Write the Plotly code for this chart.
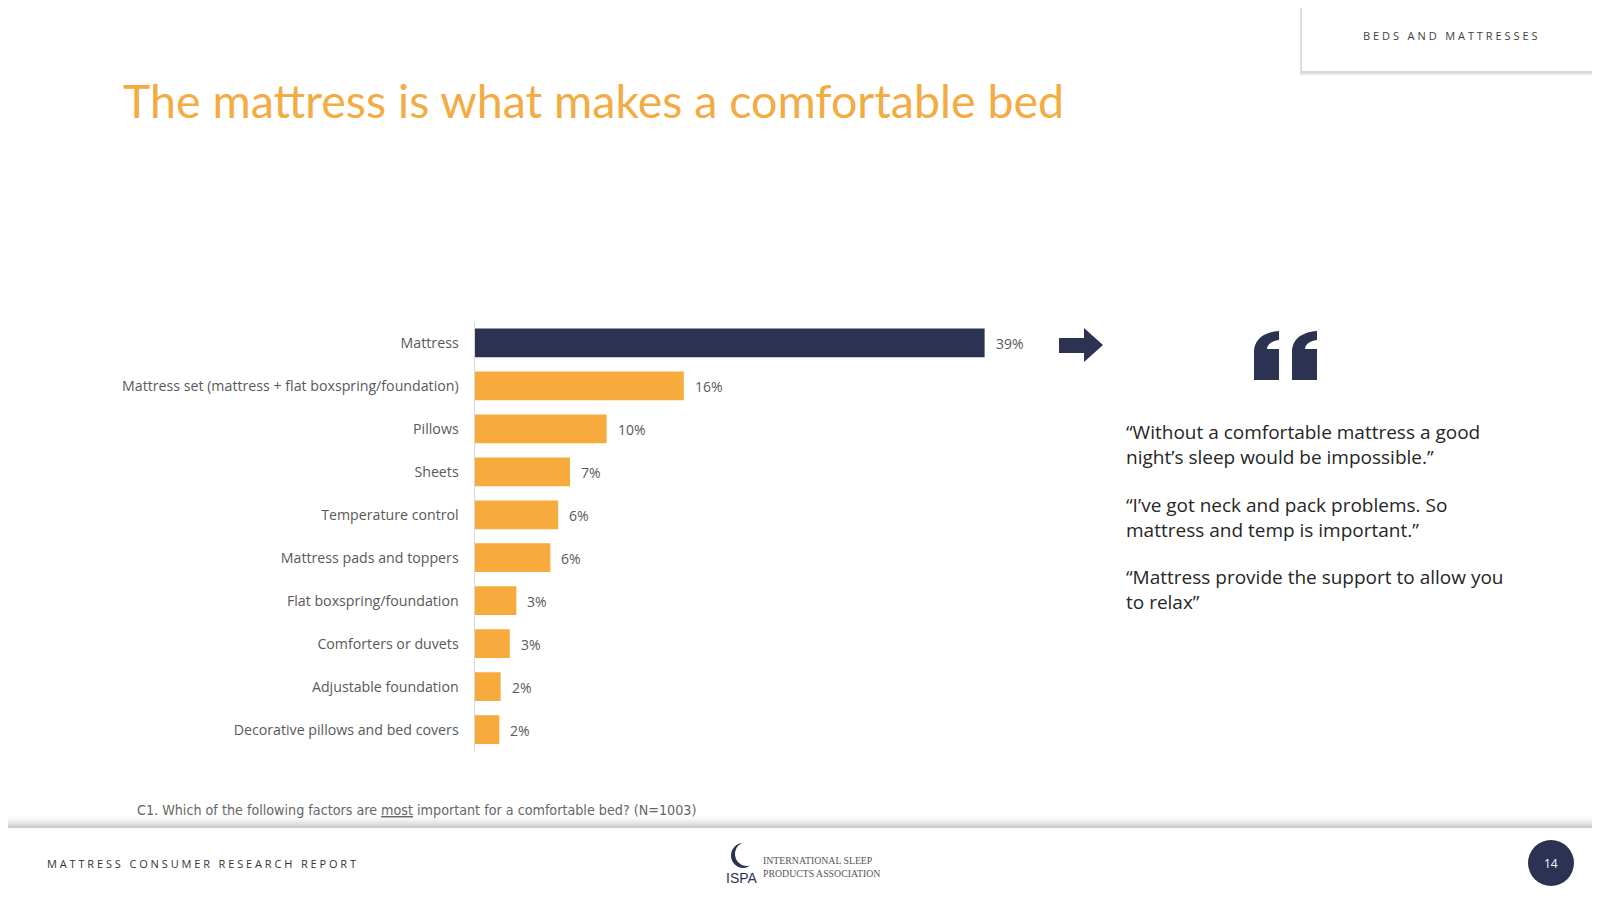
import plotly.graph_objects as go

W, H = 1600, 900
OFF = 8  # the page body adds an 8px margin; compensate so marks land where intended

categories = [
    "Mattress",
    "Mattress set (mattress + flat boxspring/foundation)",
    "Pillows",
    "Sheets",
    "Temperature control",
    "Mattress pads and toppers",
    "Flat boxspring/foundation",
    "Comforters or duvets",
    "Adjustable foundation",
    "Decorative pillows and bed covers",
]
values = [39.0, 16.0, 10.1, 7.3, 6.4, 5.8, 3.2, 2.7, 2.0, 1.9]
value_labels = ["39%", "16%", "10%", "7%", "6%", "6%", "3%", "3%", "2%", "2%"]

title_text = "The mattress is what makes a comfortable bed"
section_label = "BEDS AND MATTRESSES"
footer_label = "MATTRESS CONSUMER RESEARCH REPORT"
footnote = "C1. Which of the following factors are <u>most</u> important for a comfortable bed? (N=1003)"
quotes = [
    "“Without a comfortable mattress a good<br>night’s sleep would be impossible.”",
    "“I’ve got neck and pack problems. So<br>mattress and temp is important.”",
    "“Mattress provide the support to allow you<br>to relax”",
]
page_number = "14"

NAVY = "#2C3252"
ORANGE = "#F6AB3C"
GRAY = "#595959"

def px(x):
    return (x - OFF) / W

def py(y):
    return 1 - (y - OFF) / H

colors = [NAVY] + [ORANGE] * (len(categories) - 1)

fig = go.Figure()
fig.add_trace(go.Bar(
    x=values, y=categories, orientation="h",
    marker=dict(color=colors, line=dict(width=0)),
    hoverinfo="skip",
))

annotations = []
for v, c, lab in zip(values, categories, value_labels):
    annotations.append(dict(
        x=v, y=c, xref="x", yref="y", text=lab, showarrow=False,
        xanchor="left", yanchor="middle", xshift=9, yshift=-1,
        font=dict(family="Open Sans", size=14, color=GRAY),
    ))

# Title
annotations.append(dict(
    x=px(121), y=py(100), xref="paper", yref="paper", text=title_text,
    showarrow=False, xanchor="left", yanchor="middle",
    font=dict(family="Lato", size=46.5, color="#F2AC43"),
))
# Section label box text
annotations.append(dict(
    x=px(1451), y=py(35), xref="paper", yref="paper",
    text='<span style="letter-spacing:2.9px">' + section_label + '</span>',
    showarrow=False, xanchor="center", yanchor="middle",
    font=dict(family="Open Sans", size=11, color="#404040"),
))
# Footer label
annotations.append(dict(
    x=px(45), y=py(863), xref="paper", yref="paper",
    text='<span style="letter-spacing:2.85px">' + footer_label + '</span>',
    showarrow=False, xanchor="left", yanchor="middle",
    font=dict(family="Open Sans", size=11, color="#333333"),
))
# Footnote
annotations.append(dict(
    x=px(135), y=py(810), xref="paper", yref="paper", text=footnote,
    showarrow=False, xanchor="left", yanchor="middle",
    font=dict(family="DejaVu Sans Condensed, Liberation Sans", size=14.2, color="#666666"),
))
# Quotes
quote_y = [445, 517, 589]
for q, yy in zip(quotes, quote_y):
    annotations.append(dict(
        x=px(1124), y=py(yy), xref="paper", yref="paper", text=q,
        showarrow=False, xanchor="left", yanchor="middle", align="left",
        font=dict(family="Open Sans", size=19, color="#262626"),
    ))
# Page number
annotations.append(dict(
    x=px(1551), y=py(863), xref="paper", yref="paper", text=page_number,
    showarrow=False, xanchor="center", yanchor="middle",
    font=dict(family="Open Sans", size=12, color="white"),
))
# ISPA logo text
annotations.append(dict(
    x=px(742), y=py(878), xref="paper", yref="paper", text="ISPA",
    showarrow=False, xanchor="center", yanchor="middle",
    font=dict(family="Liberation Sans", size=14, color="#2C3252"),
))
annotations.append(dict(
    x=px(761), y=py(867), xref="paper", yref="paper",
    text="INTERNATIONAL SLEEP<br>PRODUCTS ASSOCIATION",
    showarrow=False, xanchor="left", yanchor="middle", align="left",
    font=dict(family="Liberation Serif", size=9.8, color="#555555"),
))

shapes = []
# top-right box with soft shadow
for i, op in enumerate([0.025, 0.035, 0.045, 0.06]):
    d = 5 - i
    shapes.append(dict(type="rect", xref="paper", yref="paper",
                       x0=px(1302 - d * 0.6), x1=px(1610), y0=py(71 + d), y1=py(-10),
                       fillcolor="rgba(0,0,0,%s)" % op, line=dict(width=0), layer="below"))
shapes.append(dict(type="rect", xref="paper", yref="paper",
                   x0=px(1302), x1=px(1610), y0=py(71), y1=py(-10),
                   fillcolor="white", line=dict(width=0), layer="below"))
# footer separator shadow (gradient)
for i, op in enumerate([0.015, 0.02, 0.03, 0.04, 0.05, 0.06]):
    shapes.append(dict(type="rect", xref="paper", yref="paper",
                       x0=px(-10), x1=px(1610), y0=py(828), y1=py(816 + i * 2),
                       fillcolor="rgba(0,0,0,%s)" % op, line=dict(width=0), layer="below"))
shapes.append(dict(type="rect", xref="paper", yref="paper",
                   x0=px(-10), x1=px(1610), y0=py(910), y1=py(828),
                   fillcolor="white", line=dict(width=0), layer="below"))
# arrow
ax = [(1059, 338), (1084, 338), (1084, 328), (1103, 345), (1084, 362), (1084, 353), (1059, 353)]
path = "M " + " L ".join("%f,%f" % (px(a), py(b)) for a, b in ax) + " Z"
shapes.append(dict(type="path", xref="paper", yref="paper", path=path,
                   fillcolor=NAVY, line=dict(width=0)))

# quote marks
def qmark(x0):
    return "M %f,%f L %f,%f C %f,%f %f,%f %f,%f L %f,%f C %f,%f %f,%f %f,%f L %f,%f L %f,%f Z" % (
        px(x0), py(380), px(x0), py(352),
        px(x0), py(340), px(x0 + 9), py(332), px(x0 + 25), py(331),
        px(x0 + 25), py(340),
        px(x0 + 17), py(341), px(x0 + 13), py(345), px(x0 + 13), py(349),
        px(x0 + 25), py(349), px(x0 + 25), py(380))
for x0 in (1254, 1292):
    shapes.append(dict(type="path", xref="paper", yref="paper", path=qmark(x0),
                       fillcolor=NAVY, line=dict(width=0)))

# page number circle
shapes.append(dict(type="circle", xref="paper", yref="paper",
                   x0=px(1528), x1=px(1574), y0=py(886), y1=py(840),
                   fillcolor=NAVY, line=dict(width=0)))
# ISPA crescent
shapes.append(dict(type="circle", xref="paper", yref="paper",
                   x0=px(731), x1=px(755), y0=py(868), y1=py(843),
                   fillcolor=NAVY, line=dict(width=0)))
shapes.append(dict(type="circle", xref="paper", yref="paper",
                   x0=px(735), x1=px(759), y0=py(866), y1=py(842),
                   fillcolor="white", line=dict(width=0)))

fig.update_layout(
    width=W, height=H,
    margin=dict(l=0, r=0, t=0, b=0),
    paper_bgcolor="white", plot_bgcolor="rgba(0,0,0,0)",
    showlegend=False,
    bargap=0.33,
    annotations=annotations,
    shapes=shapes,
    xaxis=dict(domain=[px(474.5), px(474.5 + 13.08 * 45)], range=[0, 45],
               showgrid=False, zeroline=False, showticklabels=False,
               showline=False, fixedrange=True),
    yaxis=dict(domain=[py(751), py(321.5)], autorange="reversed",
               showgrid=False, zeroline=False, showline=True,
               linecolor="#D9D9D9", linewidth=1,
               ticks="", ticklabelstandoff=12,
               tickfont=dict(family="Open Sans", size=14.2, color=GRAY),
               fixedrange=True),
)

fig.write_html("out.html")
